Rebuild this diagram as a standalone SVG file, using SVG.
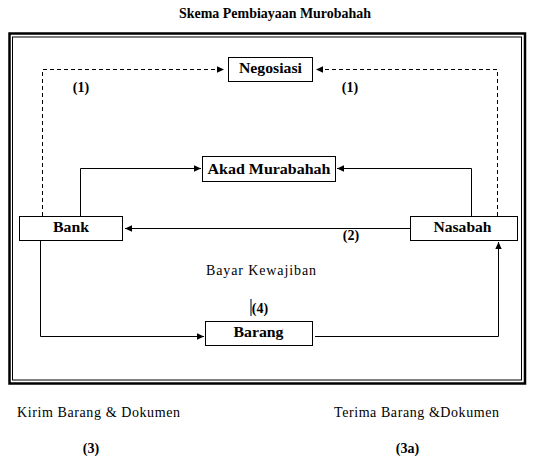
<svg xmlns="http://www.w3.org/2000/svg" width="534" height="469" viewBox="0 0 534 469">
<defs>
<marker id="ah" markerWidth="8" markerHeight="8" refX="7" refY="4" orient="auto" markerUnits="userSpaceOnUse">
<path d="M0,0.8 L7,4 L0,7.2 Z" fill="#000"/>
</marker>
<style>
text{font-family:'Liberation Serif',serif;fill:#000}
.box{fill:#fff;stroke:#000;stroke-width:1}
.lbl{font-weight:bold;font-size:15px}
.txt{font-size:14px}
.num{font-weight:bold;font-size:14px}
.ln{fill:none;stroke:#000;stroke-width:1}
.dash{fill:none;stroke:#000;stroke-width:1;stroke-dasharray:4 3}
</style>
</defs>
<rect width="534" height="469" fill="#fff"/>
<text class="lbl" x="275" y="17.5" text-anchor="middle" textLength="192" lengthAdjust="spacingAndGlyphs">Skema Pembiayaan Murobahah</text>
<g id="frame">
<rect x="9.5" y="33.5" width="515.5" height="350" fill="none" stroke="#000" stroke-width="2.5"/>
<rect x="12.5" y="37" width="509" height="343" fill="none" stroke="#000" stroke-width="1"/>
</g>
<g id="connectors">
<path class="dash" d="M42.5,216 V69.5 H224" marker-end="url(#ah)"/>
<path class="dash" d="M497.5,216 V69.5 H316" marker-end="url(#ah)"/>
<path class="ln" d="M80.5,216 V168.5 H201" marker-end="url(#ah)"/>
<path class="ln" d="M471.5,216 V168.5 H337" marker-end="url(#ah)"/>
<path class="ln" d="M410,228.5 H125" marker-end="url(#ah)"/>
<path class="ln" d="M40.5,240 V336.5 H204" marker-end="url(#ah)"/>
<path class="ln" d="M315,336.5 H498.5 V242" marker-end="url(#ah)"/>
</g>
<g id="node-negosiasi">
<rect class="box" x="228.5" y="57.5" width="84" height="24"/>
<text class="lbl" x="270.5" y="73" text-anchor="middle" textLength="63" lengthAdjust="spacingAndGlyphs">Negosiasi</text>
</g>
<g id="node-akad">
<rect class="box" x="202.5" y="156.5" width="133" height="25"/>
<text class="lbl" x="269" y="174" text-anchor="middle" textLength="123" lengthAdjust="spacingAndGlyphs">Akad Murabahah</text>
</g>
<g id="node-bank">
<rect class="box" x="19.5" y="216.5" width="103" height="24"/>
<text class="lbl" x="71" y="232" text-anchor="middle" textLength="36" lengthAdjust="spacingAndGlyphs">Bank</text>
</g>
<g id="node-nasabah">
<rect class="box" x="410.5" y="216.5" width="107" height="24"/>
<text class="lbl" x="462.5" y="232" text-anchor="middle" textLength="58" lengthAdjust="spacingAndGlyphs">Nasabah</text>
</g>
<g id="node-barang">
<rect class="box" x="205.5" y="321.5" width="107" height="24"/>
<text class="lbl" x="258.5" y="337" text-anchor="middle" textLength="50" lengthAdjust="spacingAndGlyphs">Barang</text>
</g>
<g id="labels">
<text class="num" x="81" y="92" text-anchor="middle">(1)</text>
<text class="num" x="350" y="92" text-anchor="middle">(1)</text>
<text class="num" x="351" y="240" text-anchor="middle">(2)</text>
<text class="txt" x="206" y="275" textLength="110" lengthAdjust="spacing">Bayar Kewajiban</text>
<line x1="251" y1="299" x2="251" y2="316" stroke="#1a2a40" stroke-width="1.2"/>
<text class="num" x="260" y="312.5" text-anchor="middle">(4)</text>
<text class="txt" x="17" y="417" textLength="163" lengthAdjust="spacing">Kirim Barang &amp; Dokumen</text>
<text class="txt" x="334" y="417" textLength="165" lengthAdjust="spacing">Terima Barang &amp;Dokumen</text>
<text class="num" x="91" y="453" text-anchor="middle">(3)</text>
<text class="num" x="407.5" y="453" text-anchor="middle">(3a)</text>
</g>
</svg>
